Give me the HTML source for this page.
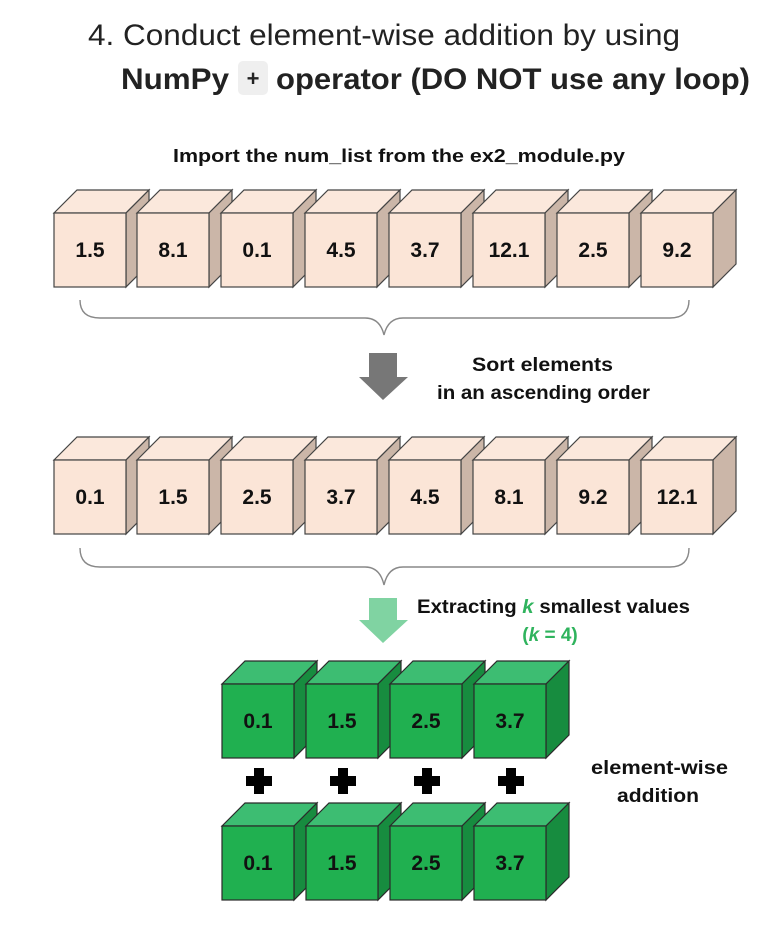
<!DOCTYPE html>
<html><head><meta charset="utf-8"><style>
html,body{margin:0;padding:0;background:#fff;}
svg{display:block;}
.h{font-family:"Liberation Sans",sans-serif;fill:#222;}
.t{font-family:"Liberation Sans",sans-serif;font-weight:bold;fill:#111;}
.n{font-family:"Liberation Sans",sans-serif;font-weight:bold;font-size:21px;fill:#111;text-anchor:middle;}
</style></head><body>
<svg width="768" height="938" viewBox="0 0 768 938" xmlns="http://www.w3.org/2000/svg">
<defs>
<g id="pc">
<polygon points="0,0 23,-23 95,-23 72,0" fill="#fbe8dc" stroke="#444" stroke-width="1.2"/>
<polygon points="72,0 95,-23 95,51 72,74" fill="#cbb6a8" stroke="#444" stroke-width="1.2"/>
<rect x="0" y="0" width="72" height="74" fill="#fbe5d7" stroke="#444" stroke-width="1.2"/>
</g>
<g id="gc">
<polygon points="0,0 23,-23 95,-23 72,0" fill="#3dbd72" stroke="#2a2a2a" stroke-width="1.2"/>
<polygon points="72,0 95,-23 95,51 72,74" fill="#178c3f" stroke="#2a2a2a" stroke-width="1.2"/>
<rect x="0" y="0" width="72" height="74" fill="#20b050" stroke="#2a2a2a" stroke-width="1.2"/>
</g>
</defs>
<text class="h" x="88" y="45" font-size="30" textLength="592" lengthAdjust="spacingAndGlyphs">4. Conduct element-wise addition by using</text>
<rect x="238" y="61" width="30" height="34" rx="5" fill="#efefef"/>
<text class="h" x="253" y="86" font-size="22" font-weight="bold" text-anchor="middle">+</text>
<text class="h" x="121" y="89" font-size="30" font-weight="bold" textLength="108" lengthAdjust="spacingAndGlyphs">NumPy</text>
<text class="h" x="276" y="89" font-size="30" font-weight="bold" textLength="474" lengthAdjust="spacingAndGlyphs">operator (DO NOT use any loop)</text>

<text class="t" x="173" y="162" font-size="18" textLength="452" lengthAdjust="spacingAndGlyphs">Import the num_list from the ex2_module.py</text>

<use href="#pc" x="54" y="213"/><use href="#pc" x="137" y="213"/><use href="#pc" x="221" y="213"/><use href="#pc" x="305" y="213"/>
<use href="#pc" x="389" y="213"/><use href="#pc" x="473" y="213"/><use href="#pc" x="557" y="213"/><use href="#pc" x="641" y="213"/>
<g class="n">
<text x="90" y="257">1.5</text><text x="173" y="257">8.1</text><text x="257" y="257">0.1</text><text x="341" y="257">4.5</text>
<text x="425" y="257">3.7</text><text x="509" y="257">12.1</text><text x="593" y="257">2.5</text><text x="677" y="257">9.2</text>
</g>
<path d="M80,300 Q80,318 100,318 L365,318 Q380,318 384,335 Q388,318 403,318 L670,318 Q689,318 689,300" fill="none" stroke="#888" stroke-width="1.4"/>

<polygon points="369,353 397,353 397,377 408,377 383,400 359,377 369,377" fill="#777"/>
<text class="t" x="472" y="371" font-size="19" textLength="141" lengthAdjust="spacingAndGlyphs">Sort elements</text>
<text class="t" x="437" y="399" font-size="19" textLength="213" lengthAdjust="spacingAndGlyphs">in an ascending order</text>

<use href="#pc" x="54" y="460"/><use href="#pc" x="137" y="460"/><use href="#pc" x="221" y="460"/><use href="#pc" x="305" y="460"/>
<use href="#pc" x="389" y="460"/><use href="#pc" x="473" y="460"/><use href="#pc" x="557" y="460"/><use href="#pc" x="641" y="460"/>
<g class="n">
<text x="90" y="504">0.1</text><text x="173" y="504">1.5</text><text x="257" y="504">2.5</text><text x="341" y="504">3.7</text>
<text x="425" y="504">4.5</text><text x="509" y="504">8.1</text><text x="593" y="504">9.2</text><text x="677" y="504">12.1</text>
</g>
<path d="M80,548 Q80,567 100,567 L365,567 Q380,567 384,585 Q388,567 403,567 L670,567 Q689,567 689,548" fill="none" stroke="#888" stroke-width="1.4"/>

<polygon points="369,598 397,598 397,620 408,620 383,643 359,620 369,620" fill="#80d3a2"/>
<text class="t" x="417" y="613" font-size="19" textLength="273" lengthAdjust="spacingAndGlyphs">Extracting <tspan style="fill:#2fb35d" font-style="italic">k</tspan> smallest values</text>
<text class="t" x="550" y="641" font-size="19" text-anchor="middle" style="fill:#2fb35d">(<tspan font-style="italic">k</tspan> = 4)</text>

<use href="#gc" x="222" y="684"/><use href="#gc" x="306" y="684"/><use href="#gc" x="390" y="684"/><use href="#gc" x="474" y="684"/>
<use href="#gc" x="222" y="826"/><use href="#gc" x="306" y="826"/><use href="#gc" x="390" y="826"/><use href="#gc" x="474" y="826"/>
<g class="n">
<text x="258" y="728">0.1</text><text x="342" y="728">1.5</text><text x="426" y="728">2.5</text><text x="510" y="728">3.7</text>
<text x="258" y="870">0.1</text><text x="342" y="870">1.5</text><text x="426" y="870">2.5</text><text x="510" y="870">3.7</text>
</g>
<g fill="#000">
<path d="M254,768h10v8h8v10h-8v8h-10v-8h-8v-10h8z"/>
<path d="M338,768h10v8h8v10h-8v8h-10v-8h-8v-10h8z"/>
<path d="M422,768h10v8h8v10h-8v8h-10v-8h-8v-10h8z"/>
<path d="M506,768h10v8h8v10h-8v8h-10v-8h-8v-10h8z"/>
</g>
<text class="t" x="591" y="774" font-size="19" textLength="137" lengthAdjust="spacingAndGlyphs">element-wise</text>
<text class="t" x="617" y="802" font-size="19" textLength="82" lengthAdjust="spacingAndGlyphs">addition</text>
</svg>
</body></html>
